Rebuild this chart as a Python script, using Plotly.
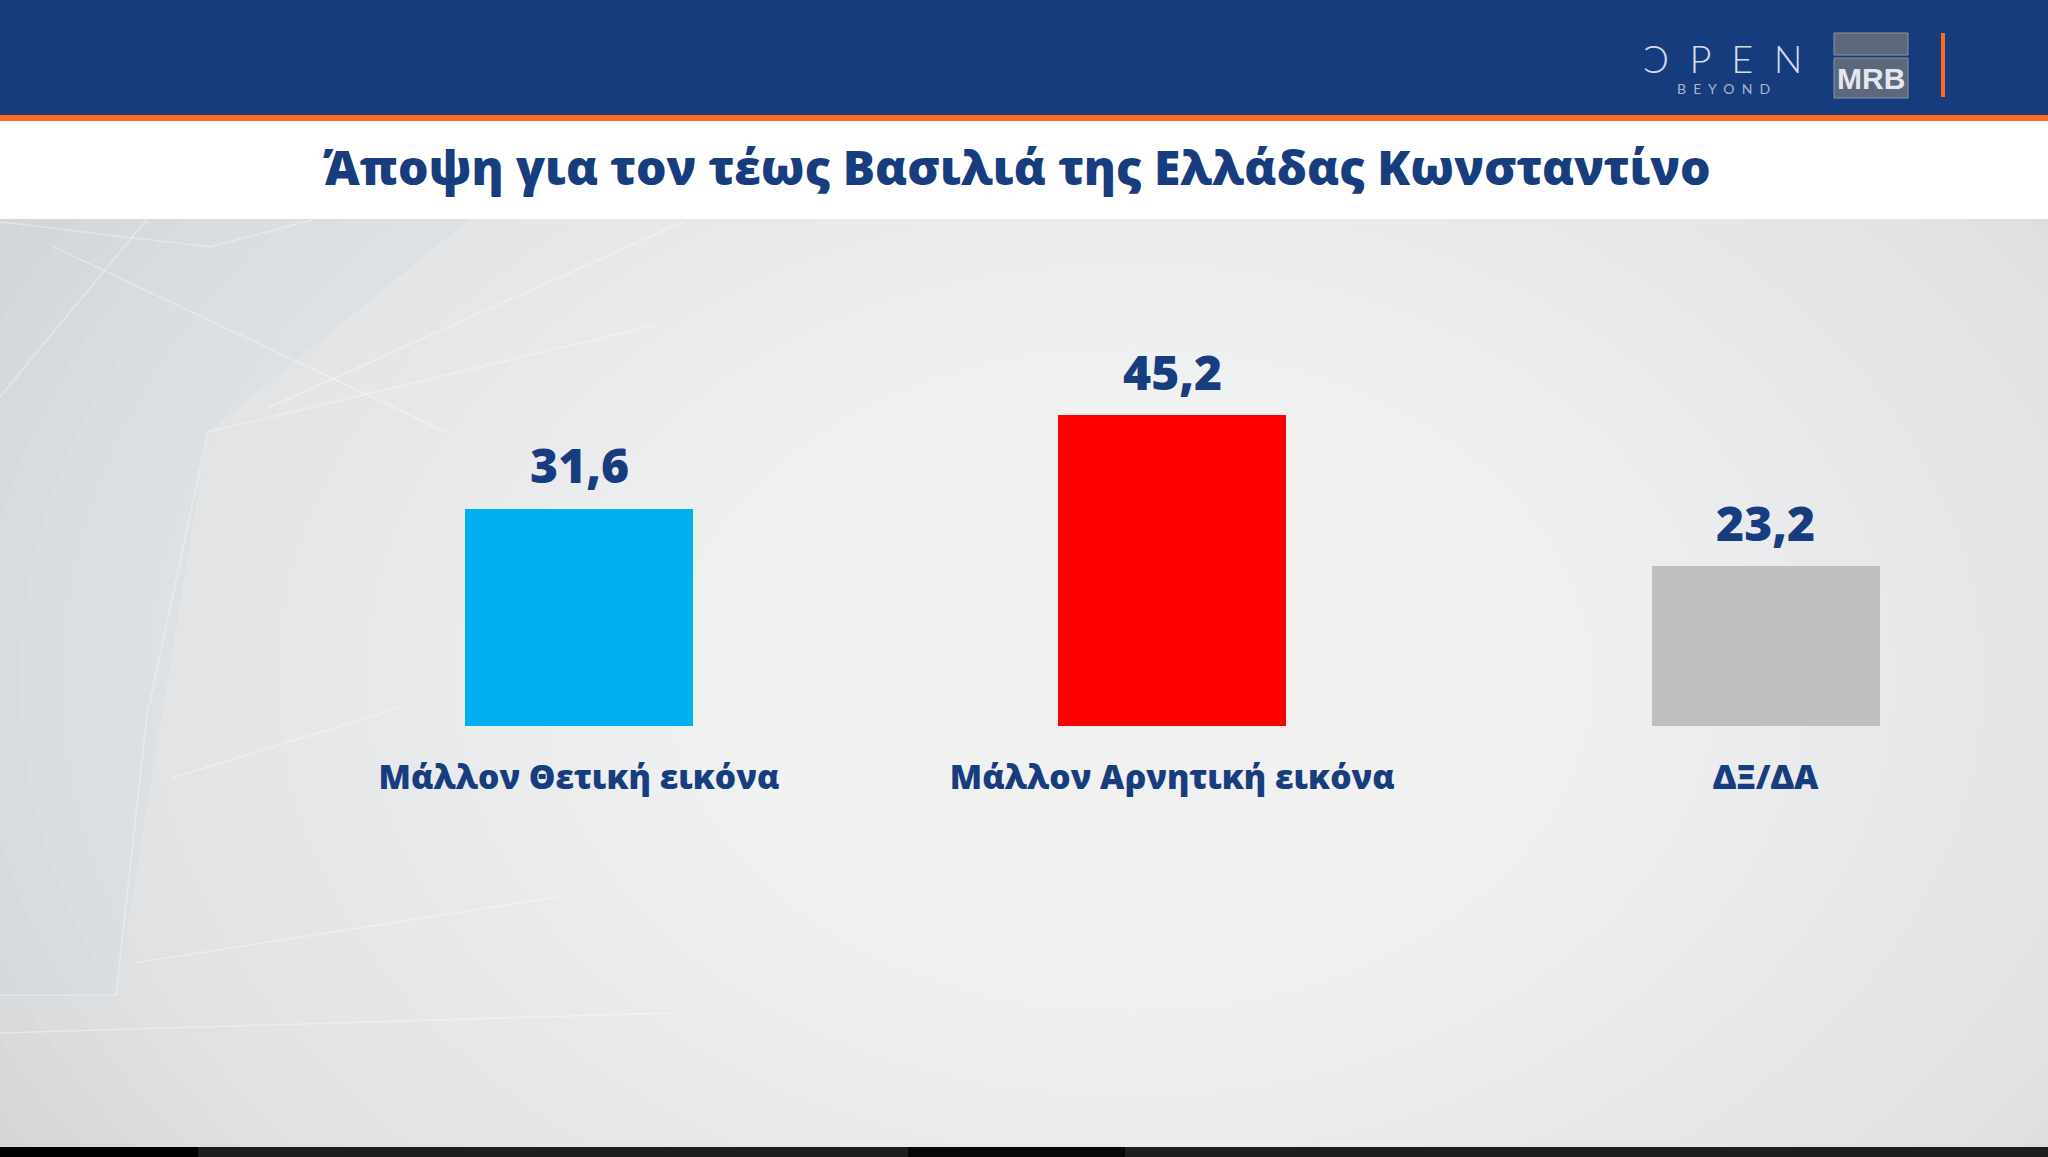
import plotly.graph_objects as go

# ---- data ----
categories = ["Μάλλον Θετική εικόνα", "Μάλλον Αρνητική εικόνα", "ΔΞ/ΔΑ"]
values = [31.6, 45.2, 23.2]
value_labels = ["31,6", "45,2", "23,2"]
bar_colors = ["#00B0F0", "#FF0000", "#BFBFBF"]
title_text = "Άποψη για τον τέως Βασιλιά της Ελλάδας Κωνσταντίνο"

W, H = 2048, 1157
NAVY = "#173D7E"
FONT = "Open Sans"


def fx(px):
    return px / W


def fy(py):
    return 1 - py / H


fig = go.Figure()
fig.add_trace(go.Bar(
    x=categories, y=values,
    marker=dict(color=bar_colors, line=dict(width=0)),
    width=0.384,
    hoverinfo="skip",
))

shapes = []
# background radial-ish lightening
cx, cy = 1130, 680
n = 30
for i in range(n):
    rx = 1500 - i * 1300 / n
    ry = 1050 - i * 900 / n
    shapes.append(dict(type="circle", xref="paper", yref="paper",
                       x0=fx(cx - rx), x1=fx(cx + rx), y0=fy(cy + ry), y1=fy(cy - ry),
                       fillcolor="rgba(255,255,255,0.062)", line=dict(width=0), layer="below"))
# translucent bluish left panel
shapes.append(dict(type="path", xref="paper", yref="paper",
                   path=f"M 0,{fy(219)} L {fx(470)},{fy(219)} L {fx(208)},{fy(432)} L {fx(116)},{fy(995)} L 0,{fy(995)} Z",
                   fillcolor="rgba(200,212,225,0.22)", line=dict(width=0), layer="below"))
# faint geometric lines on the left
lines = [
    [(0, 222), (210, 247), (312, 220)],
    [(147, 219), (0, 397)],
    [(54, 247), (446, 432)],
    [(268, 408), (683, 222)],
    [(208, 432), (656, 325)],
    [(208, 432), (147, 715), (116, 995), (0, 995)],
    [(0, 1033), (670, 1013)],
    [(134, 963), (558, 897)],
    [(172, 778), (402, 707)],
]
for pts in lines:
    path = "M " + " L ".join(f"{fx(x)},{fy(y)}" for x, y in pts)
    shapes.append(dict(type="path", xref="paper", yref="paper", path=path,
                       line=dict(color="rgba(255,255,255,0.35)", width=1.5), layer="below"))

# header band
shapes += [
    dict(type="rect", xref="paper", yref="paper", x0=0, x1=1, y0=fy(115), y1=1,
         fillcolor="#163C7D", line=dict(width=0), layer="below"),
    dict(type="rect", xref="paper", yref="paper", x0=0, x1=1, y0=fy(121), y1=fy(115),
         fillcolor="#FF6B1F", line=dict(width=0), layer="below"),
    dict(type="rect", xref="paper", yref="paper", x0=0, x1=1, y0=fy(219), y1=fy(121),
         fillcolor="#FFFFFF", line=dict(width=0), layer="below"),
    # MRB logo
    dict(type="rect", xref="paper", yref="paper", x0=fx(1834), x1=fx(1908), y0=fy(55), y1=fy(33),
         fillcolor="#5D687C", line=dict(color="#8A94A8", width=1), layer="below"),
    dict(type="rect", xref="paper", yref="paper", x0=fx(1834), x1=fx(1908), y0=fy(98), y1=fy(58),
         fillcolor="#5D687C", line=dict(color="#8A94A8", width=1), layer="below"),
    # orange vertical
    dict(type="rect", xref="paper", yref="paper", x0=fx(1941), x1=fx(1945), y0=fy(97), y1=fy(33),
         fillcolor="#FF6B1F", line=dict(width=0), layer="below"),
    # bottom strip
    dict(type="rect", xref="paper", yref="paper", x0=0, x1=1, y0=0, y1=fy(1147),
         fillcolor="#1E1E1E", line=dict(width=0), layer="above"),
    dict(type="rect", xref="paper", yref="paper", x0=0, x1=fx(198), y0=0, y1=fy(1147),
         fillcolor="#000000", line=dict(width=0), layer="above"),
    dict(type="rect", xref="paper", yref="paper", x0=fx(908), x1=fx(1125), y0=0, y1=fy(1147),
         fillcolor="#080808", line=dict(width=0), layer="above"),
]

annotations = [
    dict(xref="paper", yref="paper", x=fx(1017), y=fy(166), text=title_text, showarrow=False,
         xanchor="center", yanchor="middle",
         font=dict(family=FONT, size=48, color=NAVY, weight=800)),
    dict(xref="paper", yref="paper", x=fx(1723), y=fy(58), text="Ɔ  P  E  N", showarrow=False,
         xanchor="center", yanchor="middle",
         font=dict(family="Lato", size=38, color="#D5DCEA", weight=300)),
    dict(xref="paper", yref="paper", x=fx(1723), y=fy(89), text="B  E  Y  O  N  D", showarrow=False,
         xanchor="center", yanchor="middle",
         font=dict(family="Lato", size=14, color="#A9B6CF")),
    dict(xref="paper", yref="paper", x=fx(1871), y=fy(79), text="MRB", showarrow=False,
         xanchor="center", yanchor="middle",
         font=dict(family="Liberation Sans", size=30, color="#E3E7EE", weight=700)),
]
for c, v, t in zip(categories, values, value_labels):
    annotations.append(dict(x=c, y=v, xref="x", yref="y", text=t, showarrow=False,
                            xanchor="center", yanchor="middle", yshift=44,
                            font=dict(family=FONT, size=48, color=NAVY, weight=800)))

fig.update_layout(
    width=W, height=H,
    margin=dict(l=0, r=0, t=0, b=0),
    paper_bgcolor="#C6C9CC",
    plot_bgcolor="rgba(0,0,0,0)",
    showlegend=False,
    shapes=shapes,
    annotations=annotations,
    bargap=0,
    xaxis=dict(
        type="category", range=[-0.976, 2.476], domain=[0, 1],
        anchor="free", position=(H - 726) / H,
        showgrid=False, zeroline=False, showline=False, ticks="",
        ticklabelstandoff=28,
        tickfont=dict(family=FONT, size=33.5, color=NAVY, weight=800),
        fixedrange=True,
    ),
    yaxis=dict(
        range=[-(H - 726) / 6.88, 726 / 6.88], domain=[0, 1],
        visible=False, showgrid=False, zeroline=False, fixedrange=True,
    ),
)

fig.write_html("out.html", config={"displayModeBar": False},
               post_script="document.body.style.margin='0';document.body.style.overflow='hidden';")
